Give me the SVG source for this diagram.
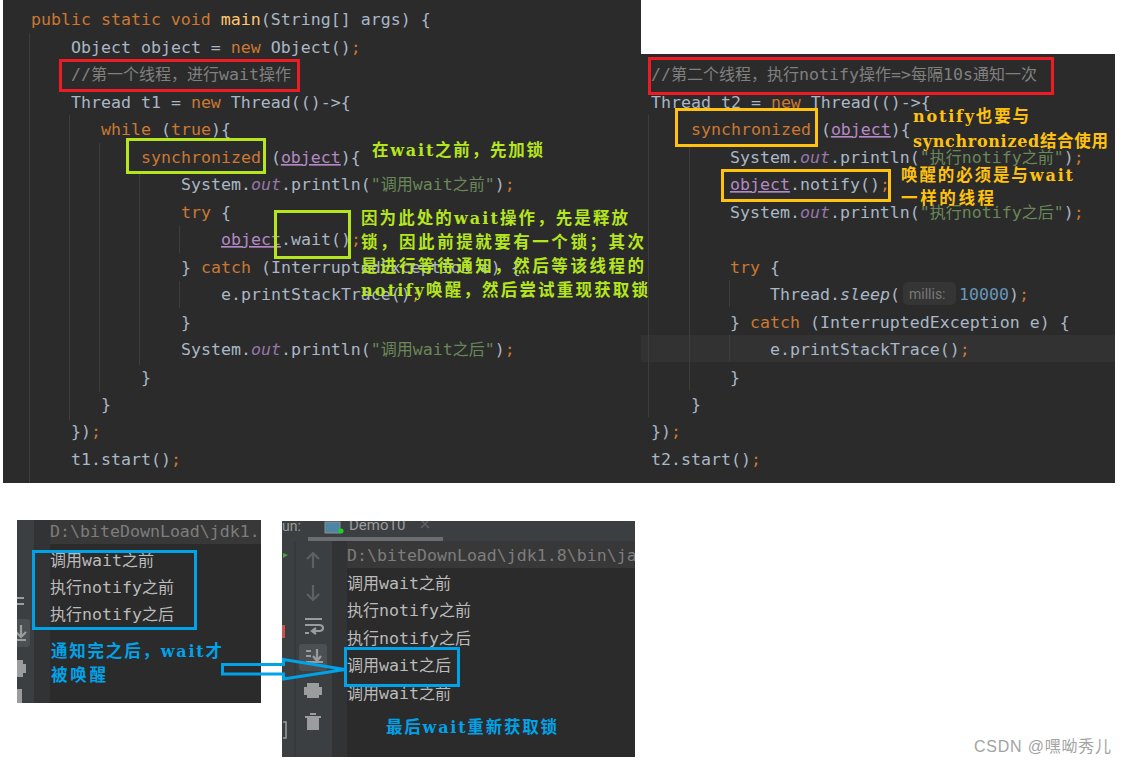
<svg xmlns="http://www.w3.org/2000/svg" width="1126" height="764" viewBox="0 0 1126 764">
<style>
text{white-space:pre}
.c{font-family:"DejaVu Sans Mono","Liberation Mono",monospace;font-size:16.6px;fill:#a9b7c6}
.k{fill:#cc7832}.m{fill:#ffc66d}.n{fill:#808080}.s{fill:#6a8759}.d{fill:#6897bb}
.f{fill:#9876aa;font-style:italic}
.o{fill:#b389c5;text-decoration:underline}
.z{font-family:"Noto Sans CJK SC",sans-serif;font-size:16px}
.r{fill:#bbbbbb}.h{fill:#7d7d7d}
.a{font-family:"DejaVu Serif","Noto Sans CJK SC",serif;font-weight:700;font-size:16px}
.a .z{font-family:"Noto Sans CJK SC",serif;font-weight:700;font-size:16.5px}
.lime{fill:#b5e61d}.gold{fill:#ffc20e}.sky{fill:#00a2e8}
.g{stroke:#3d3d3d;stroke-width:1;fill:none}
.box{fill:none;stroke-width:3}
.ic{fill:#9a9c9e}.ics{fill:none;stroke:#9a9c9e;stroke-width:2.2}
.ic2{fill:#5e6163}
</style>
<defs>
<clipPath id="cl"><rect x="17" y="520" width="244" height="183"/></clipPath>
<clipPath id="cr"><rect x="282" y="521" width="353" height="236"/></clipPath>
</defs>
<rect width="1126" height="764" fill="#fff"/>

<g id="panel-thread1">
<rect x="3" y="0" width="638" height="483" fill="#2b2b2b"/>
<path class="g" d="M29.500 33V483M69.500 115V420M99.500 143V392M139.500 171V365M179.500 226V253M179.500 281V308"/>
<text class="c" x="31" y="25"><tspan class="k">public static void </tspan><tspan class="m">main</tspan>(String[] args) {</text>
<text class="c" x="71" y="53">Object object = <tspan class="k">new</tspan> Object()<tspan class="k">;</tspan></text>
<text class="c n" x="71" y="80" style="fill:#808080">//<tspan class="z">第一个线程，进行</tspan>wait<tspan class="z">操作</tspan></text>
<text class="c" x="71" y="108">Thread t1 = <tspan class="k">new</tspan> Thread(()-&gt;{</text>
<text class="c" x="101" y="135"><tspan class="k">while</tspan> (<tspan class="k">true</tspan>){</text>
<text class="c" x="141" y="163"><tspan class="k">synchronized</tspan> (<tspan class="o">object</tspan>){</text>
<text class="c" x="181" y="190">System.<tspan class="f">out</tspan>.println(<tspan class="s">"</tspan><tspan class="s z">调用</tspan><tspan class="s">wait</tspan><tspan class="s z">之前</tspan><tspan class="s">"</tspan>)<tspan class="k">;</tspan></text>
<text class="c k" x="181" y="218" style="fill:#cc7832">try <tspan style="fill:#a9b7c6">{</tspan></text>
<text class="c" x="221" y="245"><tspan class="o">object</tspan>.wait()<tspan class="k">;</tspan></text>
<text class="c" x="181" y="273">} <tspan class="k">catch</tspan> (InterruptedException e) {</text>
<text class="c" x="221" y="300">e.printStackTrace()<tspan class="k">;</tspan></text>
<text class="c" x="181" y="328">}</text>
<text class="c" x="181" y="355">System.<tspan class="f">out</tspan>.println(<tspan class="s">"</tspan><tspan class="s z">调用</tspan><tspan class="s">wait</tspan><tspan class="s z">之后</tspan><tspan class="s">"</tspan>)<tspan class="k">;</tspan></text>
<text class="c" x="141" y="383">}</text>
<text class="c" x="101" y="410">}</text>
<text class="c" x="71" y="437">})<tspan class="k">;</tspan></text>
<text class="c" x="71" y="465">t1.start()<tspan class="k">;</tspan></text>
</g>

<g id="panel-thread2">
<rect x="641" y="54" width="474" height="429" fill="#2b2b2b"/>
<rect x="641" y="335" width="474" height="27" fill="#323232"/>
<path class="g" d="M648.500 115V417M689.500 147V390M729.500 280V307M729.500 335V362"/>
<text class="c" x="651" y="80" style="fill:#808080">//<tspan class="z">第二个线程，执行</tspan>notify<tspan class="z">操作</tspan>=&gt;<tspan class="z">每隔</tspan>10s<tspan class="z">通知一次</tspan></text>
<text class="c" x="651" y="108">Thread t2 = <tspan class="k">new</tspan> Thread(()-&gt;{</text>
<text class="c" x="691" y="135"><tspan class="k">synchronized</tspan> (<tspan class="o">object</tspan>){</text>
<text class="c" x="730" y="163">System.<tspan class="f">out</tspan>.println(<tspan class="s">"</tspan><tspan class="s z">执行</tspan><tspan class="s">notify</tspan><tspan class="s z">之前</tspan><tspan class="s">"</tspan>)<tspan class="k">;</tspan></text>
<text class="c" x="730" y="190"><tspan class="o">object</tspan>.notify()<tspan class="k">;</tspan></text>
<text class="c" x="730" y="218">System.<tspan class="f">out</tspan>.println(<tspan class="s">"</tspan><tspan class="s z">执行</tspan><tspan class="s">notify</tspan><tspan class="s z">之后</tspan><tspan class="s">"</tspan>)<tspan class="k">;</tspan></text>
<text class="c" x="730" y="273"><tspan class="k">try</tspan> {</text>
<text class="c" x="770" y="300">Thread.<tspan style="font-style:italic">sleep</tspan>(</text>
<rect x="903" y="282" width="53" height="23" rx="5" fill="#353535"/>
<text x="909" y="299" font-family="Roboto,sans-serif" font-size="14" fill="#787878">millis:</text>
<text class="c" x="959" y="300"><tspan class="d">10000</tspan>)<tspan class="k">;</tspan></text>
<text class="c" x="730" y="328">} <tspan class="k">catch</tspan> (InterruptedException e) {</text>
<text class="c" x="770" y="355">e.printStackTrace()<tspan class="k">;</tspan></text>
<text class="c" x="730" y="383">}</text>
<text class="c" x="691" y="410">}</text>
<text class="c" x="651" y="437">})<tspan class="k">;</tspan></text>
<text class="c" x="651" y="465">t2.start()<tspan class="k">;</tspan></text>
</g>

<g id="console-left" clip-path="url(#cl)">
<rect x="17" y="520" width="244" height="183" fill="#2b2b2b"/>
<rect x="17" y="520" width="17" height="183" fill="#3c3f41"/>
<rect x="34" y="520" width="16" height="183" fill="#313335"/>
<rect x="50" y="520" width="211" height="24" fill="#383838"/>
<rect x="10" y="619" width="20" height="28" rx="3" fill="#4c5052"/>
<path class="ics" d="M17 598H24M24 604H17"/>
<path class="ics" d="M21 625V636M16 632L21 637L26 632M14 640H26"/>
<path class="ic" d="M17 660H23V664H26V673H23V677H17Z"/>
<path class="ic" d="M17 689H22V703H17Z"/>
<text class="c h" x="50" y="537" style="fill:#7d7d7d">D:\biteDownLoad\jdk1.</text>
<text class="c r" x="50" y="566" style="fill:#bbb"><tspan class="z">调用</tspan>wait<tspan class="z">之前</tspan></text>
<text class="c r" x="50" y="593" style="fill:#bbb"><tspan class="z">执行</tspan>notify<tspan class="z">之前</tspan></text>
<text class="c r" x="50" y="620" style="fill:#bbb"><tspan class="z">执行</tspan>notify<tspan class="z">之后</tspan></text>
</g>

<g id="console-right" clip-path="url(#cr)">
<rect x="282" y="521" width="353" height="236" fill="#2b2b2b"/>
<rect x="282" y="521" width="353" height="20" fill="#3c3f41"/>
<rect x="308" y="537" width="135" height="4" fill="#6b6e70"/>
<rect x="282" y="541" width="13" height="216" fill="#3c3f41"/>
<rect x="295" y="541" width="37" height="216" fill="#3c3f41"/>
<path d="M295 541V757" stroke="#323232" stroke-width="1"/>
<rect x="332" y="541" width="15" height="216" fill="#313335"/>
<rect x="347" y="541" width="288" height="27" fill="#383838"/>
<text x="282" y="531" font-family="Roboto,sans-serif" font-size="14" fill="#9a9c9e">un:</text>
<rect x="325" y="522" width="15" height="11" fill="#4d86a5" stroke="#8a8d90"/>
<circle cx="341" cy="531" r="2.500" fill="#16d916"/>
<text x="349" y="530" font-family="Roboto,sans-serif" font-size="15" fill="#9a9c9e">Demo10</text>
<path d="M421 520L429 528M429 520L421 528" stroke="#5e6163" stroke-width="1.500"/>
<path d="M283 553L288 555L283 558Z" fill="#4aa14a"/>
<rect x="282" y="625" width="3" height="13" fill="#c75450"/>
<rect x="299" y="644" width="28" height="27" rx="3" fill="#4c5052"/>
<path d="M313 553V568M307 559L313 553L319 559" fill="none" stroke="#5e6163" stroke-width="2.200"/>
<path d="M313 585V600M307 594L313 600L319 594" fill="none" stroke="#5e6163" stroke-width="2.200"/>
<path class="ics" d="M305 619H322M305 625H319Q323 625 323 628Q323 631 319 631H313M316 628L312 631L316 634M305 633H309"/>
<path class="ics" d="M317 649V660M313 656L317 661L321 656M306 651H311M306 656H311M306 662H323"/>
<path class="ic" d="M307 683H319V687H322V695H319V698H307V695H304V687H307Z"/>
<path class="ic" d="M305 716H321V718H319V730H307V718H305ZM310 713H316V715H310Z"/>
<path d="M283 722H286V738H283" fill="none" stroke="#9a9c9e" stroke-width="1.500"/>
<text class="c" x="347" y="561" style="fill:#7d7d7d">D:\biteDownLoad\jdk1.8\bin\ja</text>
<text class="c" x="347" y="589" style="fill:#bbb"><tspan class="z">调用</tspan>wait<tspan class="z">之前</tspan></text>
<text class="c" x="347" y="616" style="fill:#bbb"><tspan class="z">执行</tspan>notify<tspan class="z">之前</tspan></text>
<text class="c" x="347" y="644" style="fill:#bbb"><tspan class="z">执行</tspan>notify<tspan class="z">之后</tspan></text>
<text class="c" x="347" y="671" style="fill:#bbb"><tspan class="z">调用</tspan>wait<tspan class="z">之后</tspan></text>
<text class="c" x="347" y="699" style="fill:#bbb"><tspan class="z">调用</tspan>wait<tspan class="z">之前</tspan></text>
</g>

<g id="highlight-boxes">
<rect class="box" x="60.500" y="60.500" width="238" height="30" stroke="#ed1c24"/>
<rect class="box" x="127.500" y="139.500" width="137" height="33" stroke="#b5e61d"/>
<rect class="box" x="275.500" y="211.500" width="74" height="46" stroke="#b5e61d"/>
<rect class="box" x="649.500" y="58.500" width="403" height="35" stroke="#ed1c24"/>
<rect class="box" x="676.500" y="109.500" width="140" height="36" stroke="#ffc20e"/>
<rect class="box" x="722.500" y="170.500" width="167" height="30" stroke="#ffc20e"/>
<rect class="box" x="33.500" y="551.500" width="162" height="77" stroke="#00a2e8"/>
<rect class="box" x="345.500" y="648.500" width="113" height="37" stroke="#00a2e8"/>
</g>

<g id="connectors">
<path d="M222.500 664.500H283.500V659.500L345 669.500L283.500 679V674H222.500Z" fill="none" stroke="#00a2e8" stroke-width="3"/>
</g>

<g id="annotations">
<text class="a lime" x="372" y="156" textLength="171"><tspan class="z">在</tspan>wait<tspan class="z">之前，先加锁</tspan></text>
<text class="a lime" x="361" y="224" textLength="267"><tspan class="z">因为此处的</tspan>wait<tspan class="z">操作，先是释放</tspan></text>
<text class="a lime" x="361" y="248" textLength="283"><tspan class="z">锁，因此前提就要有一个锁；其次</tspan></text>
<text class="a lime" x="361" y="272" textLength="283"><tspan class="z">是进行等待通知，然后等该线程的</tspan></text>
<text class="a lime" x="361" y="296" textLength="287">notify<tspan class="z">唤醒，然后尝试重现获取锁</tspan></text>
<text class="a gold" x="913" y="122" textLength="116">notify<tspan class="z">也要与</tspan></text>
<text class="a gold" x="913" y="147" textLength="195">synchronized<tspan class="z">结合使用</tspan></text>
<text class="a gold" x="901" y="181" textLength="172"><tspan class="z">唤醒的必须是与</tspan>wait</text>
<text class="a gold" x="901" y="204" textLength="93"><tspan class="z">一样的线程</tspan></text>
<text class="a sky" x="51" y="657" textLength="171"><tspan class="z">通知完之后，</tspan>wait<tspan class="z">才</tspan></text>
<text class="a sky" x="51" y="681" textLength="55"><tspan class="z">被唤醒</tspan></text>
<text class="a sky" x="386" y="733" textLength="171"><tspan class="z">最后</tspan>wait<tspan class="z">重新获取锁</tspan></text>
</g>

<text id="watermark" x="974" y="752" font-family="'Liberation Sans','Noto Sans CJK SC',sans-serif" font-size="16" fill="#a3a3a3" textLength="137">CSDN @嘿呦秀儿</text>
</svg>
